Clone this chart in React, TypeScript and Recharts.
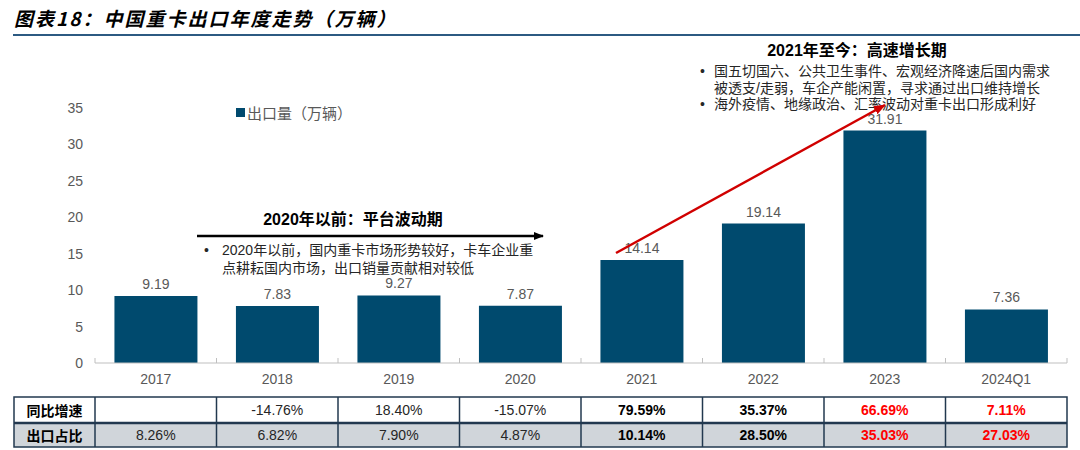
import React from 'react';
import { BarChart, Bar, XAxis, YAxis, LabelList } from 'recharts';

const categories = ['2017', '2018', '2019', '2020', '2021', '2022', '2023', '2024Q1'];
const exportVolume = [9.19, 7.83, 9.27, 7.87, 14.14, 19.14, 31.91, 7.36];
const yoyGrowth = ['', '-14.76%', '18.40%', '-15.07%', '79.59%', '35.37%', '66.69%', '7.11%'];
const exportShare = ['8.26%', '6.82%', '7.90%', '4.87%', '10.14%', '28.50%', '35.03%', '27.03%'];
const yTicks = [0, 5, 10, 15, 20, 25, 30, 35];
const rowLabels = ['同比增速', '出口占比'];
const seriesName = '出口量（万辆）';

const data = categories.map((c, i) => ({ year: c, value: exportVolume[i] }));

const BAR = '#004A6E';
const GRAY = '#595959';
const NUM_FONT = "'Liberation Sans', Arial, 'Noto Sans CJK SC', sans-serif";
const CJK_FONT = "'Liberation Sans', Arial, 'Noto Sans CJK SC', sans-serif";
const BORDER = '#22384F';

const XTick = (props: any) => {
  const { x, y, payload, index, visibleTicksCount } = props;
  const off = payload && payload.offset ? payload.offset : 60.75;
  const last = index === (visibleTicksCount ?? categories.length) - 1;
  return (
    <g>
      <line x1={x - off} x2={x - off} y1={y - 5} y2={y} stroke="#BFBFBF" strokeWidth={1} />
      {last && <line x1={x + off} x2={x + off} y1={y - 5} y2={y} stroke="#BFBFBF" strokeWidth={1} />}
      <text x={x} y={y + 21} textAnchor="middle" fill={GRAY} fontSize={14} fontFamily={NUM_FONT}>
        {payload.value}
      </text>
    </g>
  );
};

const LegendBox = () => (
  <div
    style={{
      position: 'absolute', left: 236, top: 102, display: 'flex', alignItems: 'center',
      fontFamily: "'Noto Sans CJK SC', serif", fontSize: 15, color: GRAY, whiteSpace: 'nowrap',
    }}
  >
    <span style={{ display: 'inline-block', width: 9, height: 9, background: BAR, marginRight: 2 }} />
    <span>{seriesName}</span>
  </div>
);

const colLeft = 14;
const firstColW = 81;
const colW = 121.5;

const Table = () => {
  const rows = [yoyGrowth, exportShare];
  const rowTops = [397, 423];
  const rowHeights = [26, 24];
  return (
    <div style={{ position: 'absolute', left: 0, top: 0 }}>
      {rows.map((row, r) => (
        <div key={r}>
          <div
            style={{
              position: 'absolute', left: colLeft, top: rowTops[r], width: firstColW, height: rowHeights[r],
              background: r === 1 ? '#D0D5DA' : '#fff', display: 'flex', alignItems: 'center', justifyContent: 'center',
              fontFamily: "'Noto Sans CJK SC', sans-serif", fontWeight: 700, fontSize: 14, color: '#000',
            }}
          >
            {rowLabels[r]}
          </div>
          {row.map((v, i) => (
            <div
              key={i}
              style={{
                position: 'absolute', left: colLeft + firstColW + i * colW, top: rowTops[r], width: colW, height: rowHeights[r],
                background: r === 1 ? '#D0D5DA' : '#fff', display: 'flex', alignItems: 'center', justifyContent: 'center',
                fontFamily: NUM_FONT, fontSize: 14, fontWeight: i >= 4 ? 700 : 400,
                color: i >= 6 ? '#FF0000' : i >= 4 ? '#000' : '#262626',
              }}
            >
              {v}
            </div>
          ))}
        </div>
      ))}
      <svg width={1080} height={450} style={{ position: 'absolute', left: 0, top: 0, pointerEvents: 'none' }}>
        <rect x={colLeft} y={397} width={firstColW + colW * 8} height={50} fill="none" stroke={BORDER} strokeWidth={1.5} />
        <line x1={colLeft} x2={colLeft + firstColW + colW * 8} y1={423} y2={423} stroke={BORDER} strokeWidth={2.5} />
        {categories.map((_, i) => (
          <line key={i} x1={colLeft + firstColW + i * colW} x2={colLeft + firstColW + i * colW} y1={397} y2={447} stroke={BORDER} strokeWidth={1.5} />
        ))}
      </svg>
    </div>
  );
};

const Annotations = () => (
  <svg width={1080} height={450} style={{ position: 'absolute', left: 0, top: 0, pointerEvents: 'none' }}>
    <defs>
      <marker id="ahBlack" markerWidth="10" markerHeight="8" refX="9" refY="4" orient="auto" markerUnits="userSpaceOnUse">
        <path d="M0,0 L10,4 L0,8 z" fill="#000" />
      </marker>
      <marker id="ahRed" markerWidth="12" markerHeight="9" refX="11" refY="4.5" orient="auto" markerUnits="userSpaceOnUse">
        <path d="M0,0 L12,4.5 L0,9 z" fill="#D00000" />
      </marker>
    </defs>
    <text x={353} y={225} textAnchor="middle" fontFamily={CJK_FONT} fontWeight={700} fontSize={16} fill="#000">
      2020年以前：平台波动期
    </text>
    <line x1={197} y1={236} x2={543} y2={236} stroke="#000" strokeWidth={2.5} markerEnd="url(#ahBlack)" />
    <g fontFamily={CJK_FONT} fontSize={14} fill="#262626">
      <text x={204} y={255}>•</text>
      <text x={222} y={255}>2020年以前，国内重卡市场形势较好，卡车企业重</text>
      <text x={222} y={273}>点耕耘国内市场，出口销量贡献相对较低</text>
    </g>
    <text x={857} y={56} textAnchor="middle" fontFamily={CJK_FONT} fontWeight={700} fontSize={16} fill="#000">
      2021年至今：高速增长期
    </text>
    <g fontFamily={CJK_FONT} fontSize={14} fill="#262626">
      <text x={700} y={76}>•</text>
      <text x={714} y={76}>国五切国六、公共卫生事件、宏观经济降速后国内需求</text>
      <text x={714} y={93}>被透支/走弱，车企产能闲置，寻求通过出口维持增长</text>
      <text x={700} y={109}>•</text>
      <text x={714} y={109}>海外疫情、地缘政治、汇率波动对重卡出口形成利好</text>
    </g>
    <line x1={616} y1={253} x2={885} y2={105} stroke="#D00000" strokeWidth={2.5} markerEnd="url(#ahRed)" />
  </svg>
);

export default function App() {
  return (
    <div style={{ position: 'absolute', left: 0, top: 0, width: 1080, height: 450, background: '#fff', overflow: 'hidden' }}>
      <div
        style={{
          position: 'absolute', left: 14, top: 4, fontFamily: "'Noto Sans CJK SC', sans-serif", fontStyle: 'italic',
          fontWeight: 700, fontSize: 19, letterSpacing: 2, color: '#000', whiteSpace: 'nowrap',
        }}
      >
        图表18：中国重卡出口年度走势（万辆）
      </div>
      <div style={{ position: 'absolute', left: 13, top: 34, width: 1067, height: 2, background: '#2C5A82' }} />
      <div style={{ position: 'absolute', left: 0, top: 0 }}>
        <BarChart width={1080} height={450} data={data} margin={{ top: 108, right: 13, bottom: 57, left: 0 }} barCategoryGap="16%">
          <XAxis
            dataKey="year"
            height={30}
            tickSize={0}
            tickMargin={0}
            tickLine={false}
            axisLine={{ stroke: '#BFBFBF' }}
            tick={<XTick />}
            interval={0}
          />
          <YAxis
            width={95}
            domain={[0, 35]}
            ticks={yTicks}
            axisLine={false}
            tickLine={false}
            tickMargin={12}
            tickSize={0}
            tick={{ fill: GRAY, fontSize: 14, fontFamily: NUM_FONT }}
            interval={0}
          />
          <Bar dataKey="value" name={seriesName} fill={BAR} isAnimationActive={false}>
            <LabelList dataKey="value" position="top" offset={7} fill={GRAY} fontSize={14} fontFamily={NUM_FONT} />
          </Bar>
        </BarChart>
      </div>
      <LegendBox />
      <Annotations />
      <Table />
    </div>
  );
}
